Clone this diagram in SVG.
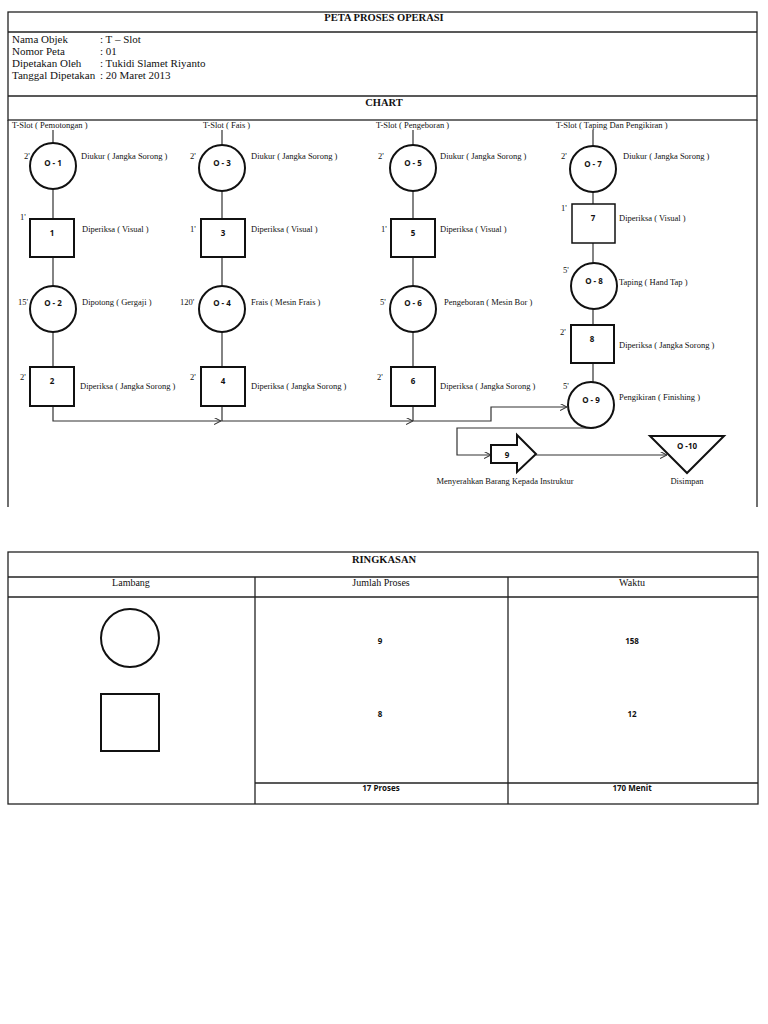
<svg xmlns="http://www.w3.org/2000/svg" width="768" height="1024" viewBox="0 0 768 1024">
<defs>
<style>
.bg{fill:#fff}
.tb{fill:none;stroke:#222;stroke-width:1.3}
.sh{fill:#fff;stroke:#111;stroke-width:2}
.ln{fill:none;stroke:#333;stroke-width:1.2}
.t{font-family:"Liberation Serif",serif;font-size:11px;fill:#111}
.tsm{font-family:"Liberation Serif",serif;font-size:8.5px;fill:#111}
.h{font-family:"Liberation Serif",serif;font-size:10.5px;font-weight:bold;fill:#111;text-anchor:middle}
.n{font-family:"Open Sans","Liberation Sans",sans-serif;font-size:8px;font-weight:bold;fill:#111;text-anchor:middle}
.c{text-anchor:middle}
</style>
<marker id="ar" viewBox="0 0 10 10" refX="10" refY="5" markerWidth="7" markerHeight="7" markerUnits="userSpaceOnUse" orient="auto">
<path d="M0,0 L10,5 L0,10" fill="none" stroke="#333" stroke-width="1.5"/>
</marker>
</defs>
<rect class="bg" width="768" height="1024"/>

<g id="header">
<rect class="tb" x="8" y="12" width="749" height="108"/>
<line class="tb" x1="8" y1="32" x2="757" y2="32"/>
<line class="tb" x1="8" y1="96" x2="757" y2="96"/>
<line class="tb" x1="8" y1="120" x2="8" y2="507"/>
<line class="tb" x1="757" y1="120" x2="757" y2="507"/>
<text class="h" x="384" y="21">PETA PROSES OPERASI</text>
<text class="t" x="12" y="43">Nama Objek</text><text class="t" x="100" y="43">: T – Slot</text>
<text class="t" x="12" y="55">Nomor Peta</text><text class="t" x="100" y="55">: 01</text>
<text class="t" x="12" y="67">Dipetakan Oleh</text><text class="t" x="100" y="67">: Tukidi Slamet Riyanto</text>
<text class="t" x="12" y="79">Tanggal Dipetakan</text><text class="t" x="100" y="79">: 20 Maret 2013</text>
<text class="h" x="384" y="106">CHART</text>
<text class="tsm" x="12" y="128">T-Slot ( Pemotongan )</text>
<text class="tsm" x="203" y="128">T-Slot ( Fais )</text>
<text class="tsm" x="376" y="128">T-Slot ( Pengeboran )</text>
<text class="tsm" x="556" y="128">T-Slot ( Taping Dan Pengikiran )</text>
</g>

<g id="connectors">
<path class="ln" d="M53,130 V143 M53,189 V219 M53,257 V287 M53,332 V367"/>
<path class="ln" d="M222,130 V145 M222,191 V219 M222,257 V286 M222,332 V367"/>
<path class="ln" d="M413,130 V145 M413,191 V219 M413,257 V286 M413,332 V367"/>
<path class="ln" d="M593,130 V146 M593,192 V204 M593,243 V263 M593,309 V325 M593,363 V382"/>
<path class="ln" d="M53,406 V421 H221" marker-end="url(#ar)"/>
<path class="ln" d="M222,406 V421"/>
<path class="ln" d="M221,421 H413" marker-end="url(#ar)"/>
<path class="ln" d="M413,406 V421"/>
<path class="ln" d="M413,421 H491 V407 H567" marker-end="url(#ar)"/>
<path class="ln" d="M594,428 H457 V455 H491" marker-end="url(#ar)"/>
<path class="ln" d="M536,455 H667" marker-end="url(#ar)"/>
</g>

<g id="col1">
<g id="o1"><circle class="sh" cx="53" cy="166" r="23"/><text class="n" x="53" y="166">O - 1</text><text class="tsm" x="24" y="159">2'</text><text class="tsm" x="81" y="159">Diukur ( Jangka Sorong )</text></g>
<g id="i1"><rect class="sh" x="30" y="219" width="44" height="38"/><text class="n" x="52" y="236">1</text><text class="tsm" x="20" y="220">1'</text><text class="tsm" x="82" y="232">Diperiksa ( Visual )</text></g>
<g id="o2"><circle class="sh" cx="53" cy="309" r="23"/><text class="n" x="53" y="306">O - 2</text><text class="tsm" x="18" y="305">15'</text><text class="tsm" x="82" y="305">Dipotong ( Gergaji )</text></g>
<g id="i2"><rect class="sh" x="30" y="367" width="44" height="39"/><text class="n" x="52" y="384">2</text><text class="tsm" x="20" y="380">2'</text><text class="tsm" x="80" y="389">Diperiksa ( Jangka Sorong )</text></g>
</g>

<g id="col2">
<g id="o3"><circle class="sh" cx="222" cy="168" r="23"/><text class="n" x="222" y="166">O - 3</text><text class="tsm" x="190" y="159">2'</text><text class="tsm" x="251" y="159">Diukur ( Jangka Sorong )</text></g>
<g id="i3"><rect class="sh" x="201" y="219" width="44" height="38"/><text class="n" x="223" y="236">3</text><text class="tsm" x="190" y="232">1'</text><text class="tsm" x="251" y="232">Diperiksa ( Visual )</text></g>
<g id="o4"><circle class="sh" cx="222" cy="309" r="23"/><text class="n" x="222" y="306">O - 4</text><text class="tsm" x="180" y="305">120'</text><text class="tsm" x="251" y="305">Frais ( Mesin Frais )</text></g>
<g id="i4"><rect class="sh" x="201" y="367" width="44" height="39"/><text class="n" x="223" y="384">4</text><text class="tsm" x="190" y="380">2'</text><text class="tsm" x="251" y="389">Diperiksa ( Jangka Sorong )</text></g>
</g>

<g id="col3">
<g id="o5"><circle class="sh" cx="413" cy="168" r="23"/><text class="n" x="413" y="166">O - 5</text><text class="tsm" x="378" y="159">2'</text><text class="tsm" x="440" y="159">Diukur ( Jangka Sorong )</text></g>
<g id="i5"><rect class="sh" x="391" y="219" width="44" height="38"/><text class="n" x="413" y="236">5</text><text class="tsm" x="381" y="232">1'</text><text class="tsm" x="440" y="232">Diperiksa ( Visual )</text></g>
<g id="o6"><circle class="sh" cx="413" cy="309" r="23"/><text class="n" x="413" y="306">O - 6</text><text class="tsm" x="380" y="305">5'</text><text class="tsm" x="444" y="305">Pengeboran ( Mesin Bor )</text></g>
<g id="i6"><rect class="sh" x="391" y="367" width="44" height="39"/><text class="n" x="413" y="384">6</text><text class="tsm" x="377" y="380">2'</text><text class="tsm" x="440" y="389">Diperiksa ( Jangka Sorong )</text></g>
</g>

<g id="col4">
<g id="o7"><circle class="sh" cx="593" cy="169" r="23"/><text class="n" x="593" y="167">O - 7</text><text class="tsm" x="561" y="159">2'</text><text class="tsm" x="623" y="159">Diukur ( Jangka Sorong )</text></g>
<g id="i7"><rect class="sh" x="572" y="204" width="43" height="39" style="stroke-width:1.5"/><text class="n" x="593" y="221">7</text><text class="tsm" x="561" y="211">1'</text><text class="tsm" x="619" y="221">Diperiksa ( Visual )</text></g>
<g id="o8"><circle class="sh" cx="594" cy="286" r="23"/><text class="n" x="594" y="284">O - 8</text><text class="tsm" x="563" y="273">5'</text><text class="tsm" x="619" y="285">Taping ( Hand Tap )</text></g>
<g id="i8"><rect class="sh" x="571" y="325" width="43" height="38"/><text class="n" x="592" y="342">8</text><text class="tsm" x="560" y="335">2'</text><text class="tsm" x="619" y="348">Diperiksa ( Jangka Sorong )</text></g>
<g id="o9"><circle class="sh" cx="591" cy="405" r="23"/><text class="n" x="591" y="403">O - 9</text><text class="tsm" x="563" y="389">5'</text><text class="tsm" x="619" y="400">Pengikiran ( Finishing )</text></g>
</g>

<g id="t9">
<path class="sh" d="M491,445 H517 V435 L536,454 L517,472 V463 H491 Z"/>
<text class="n" x="507" y="458">9</text>
<text class="tsm c" x="505" y="484">Menyerahkan Barang Kepada Instruktur</text>
</g>
<g id="s10">
<path class="sh" d="M650,436 H724 L687,473 Z"/>
<text class="n" x="687" y="449">O -10</text>
<text class="tsm c" x="687" y="484">Disimpan</text>
</g>

<g id="ringkasan">
<rect class="tb" x="8" y="552" width="750" height="252"/>
<line class="tb" x1="8" y1="577" x2="758" y2="577"/>
<line class="tb" x1="8" y1="597" x2="758" y2="597"/>
<line class="tb" x1="255" y1="577" x2="255" y2="804"/>
<line class="tb" x1="508" y1="577" x2="508" y2="804"/>
<line class="tb" x1="255" y1="783" x2="758" y2="783"/>
<text class="h" x="384" y="563">RINGKASAN</text>
<text class="tsm c" x="131" y="586" style="font-size:10px">Lambang</text>
<text class="tsm c" x="381" y="586" style="font-size:10px">Jumlah Proses</text>
<text class="tsm c" x="632" y="586" style="font-size:10px">Waktu</text>
<circle class="sh" cx="130" cy="638" r="29"/>
<rect class="sh" x="101" y="694" width="58" height="57"/>
<text class="n" x="380" y="644">9</text>
<text class="n" x="632" y="644">158</text>
<text class="n" x="380" y="717">8</text>
<text class="n" x="632" y="717">12</text>
<text class="n" x="381" y="791">17 Proses</text>
<text class="n" x="632" y="791">170 Menit</text>
</g>
</svg>
